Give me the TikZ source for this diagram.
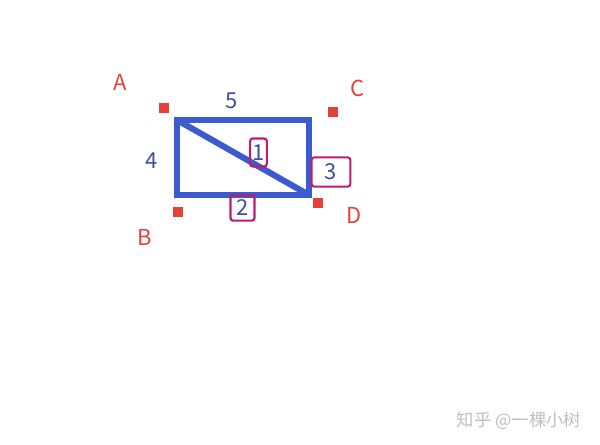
\documentclass[tikz,border=0pt]{standalone}
\usepackage{fontspec}
\setmainfont{Noto Sans CJK SC}
\usepackage{tikz}
\definecolor{penblue}{HTML}{3B5BCF}
\definecolor{numblue}{HTML}{3E4E9E}
\definecolor{markred}{HTML}{E5413B}
\definecolor{boxpink}{HTML}{C2186E}
\tikzset{
    every node/.style={inner sep=0mm, font=\fontsize{16.5}{19}\selectfont},
    corner/.style={text=markred},
    marker/.style={fill=markred, minimum size=7pt},
    side/.style={text=numblue},
    tagbox/.style={draw=boxpink, line width=1.6pt, rounded corners=2pt, text=numblue}
}
\begin{document}
\begin{tikzpicture}[x=0.75pt, y=-0.75pt]
        \useasboundingbox (0,0) rectangle (600,445);
        \coordinate (tl) at (177,120);
        \coordinate (br) at (309,195);
        \draw [penblue, line width=3.8pt] (tl) rectangle (br);
        \draw [penblue, line width=4.6pt, line cap=round] (tl) -- (br);
        \node (mA) [marker] at (164,108) {};
        \node (mC) [marker] at (333,112) {};
        \node (mB) [marker] at (178,212) {};
        \node (mD) [marker] at (318,203) {};
        \node (lA) [corner] at (120,82) {A};
        \node (lC) [corner] at (358,88) {C};
        \node (lB) [corner] at (145,237) {B};
        \node (lD) [corner] at (354,215) {D};
        \node (s5) [side] at (232,101) {5};
        \node (s4) [side] at (152,161) {4};
        \node (t1) [tagbox, minimum width=12.5pt, minimum height=21pt] at (258.5,152.5) {1};
        \node (t3) [tagbox, minimum width=29pt, minimum height=22pt] at (331,172) {3};
        \node (t2) [tagbox, minimum width=18pt, minimum height=19pt] at (242.5,208) {2};
        \node (wm) [text=black!25, font=\fontsize{13}{15}\selectfont] at (519,421) {知乎 @一棵小树};
\end{tikzpicture}
\end{document}
